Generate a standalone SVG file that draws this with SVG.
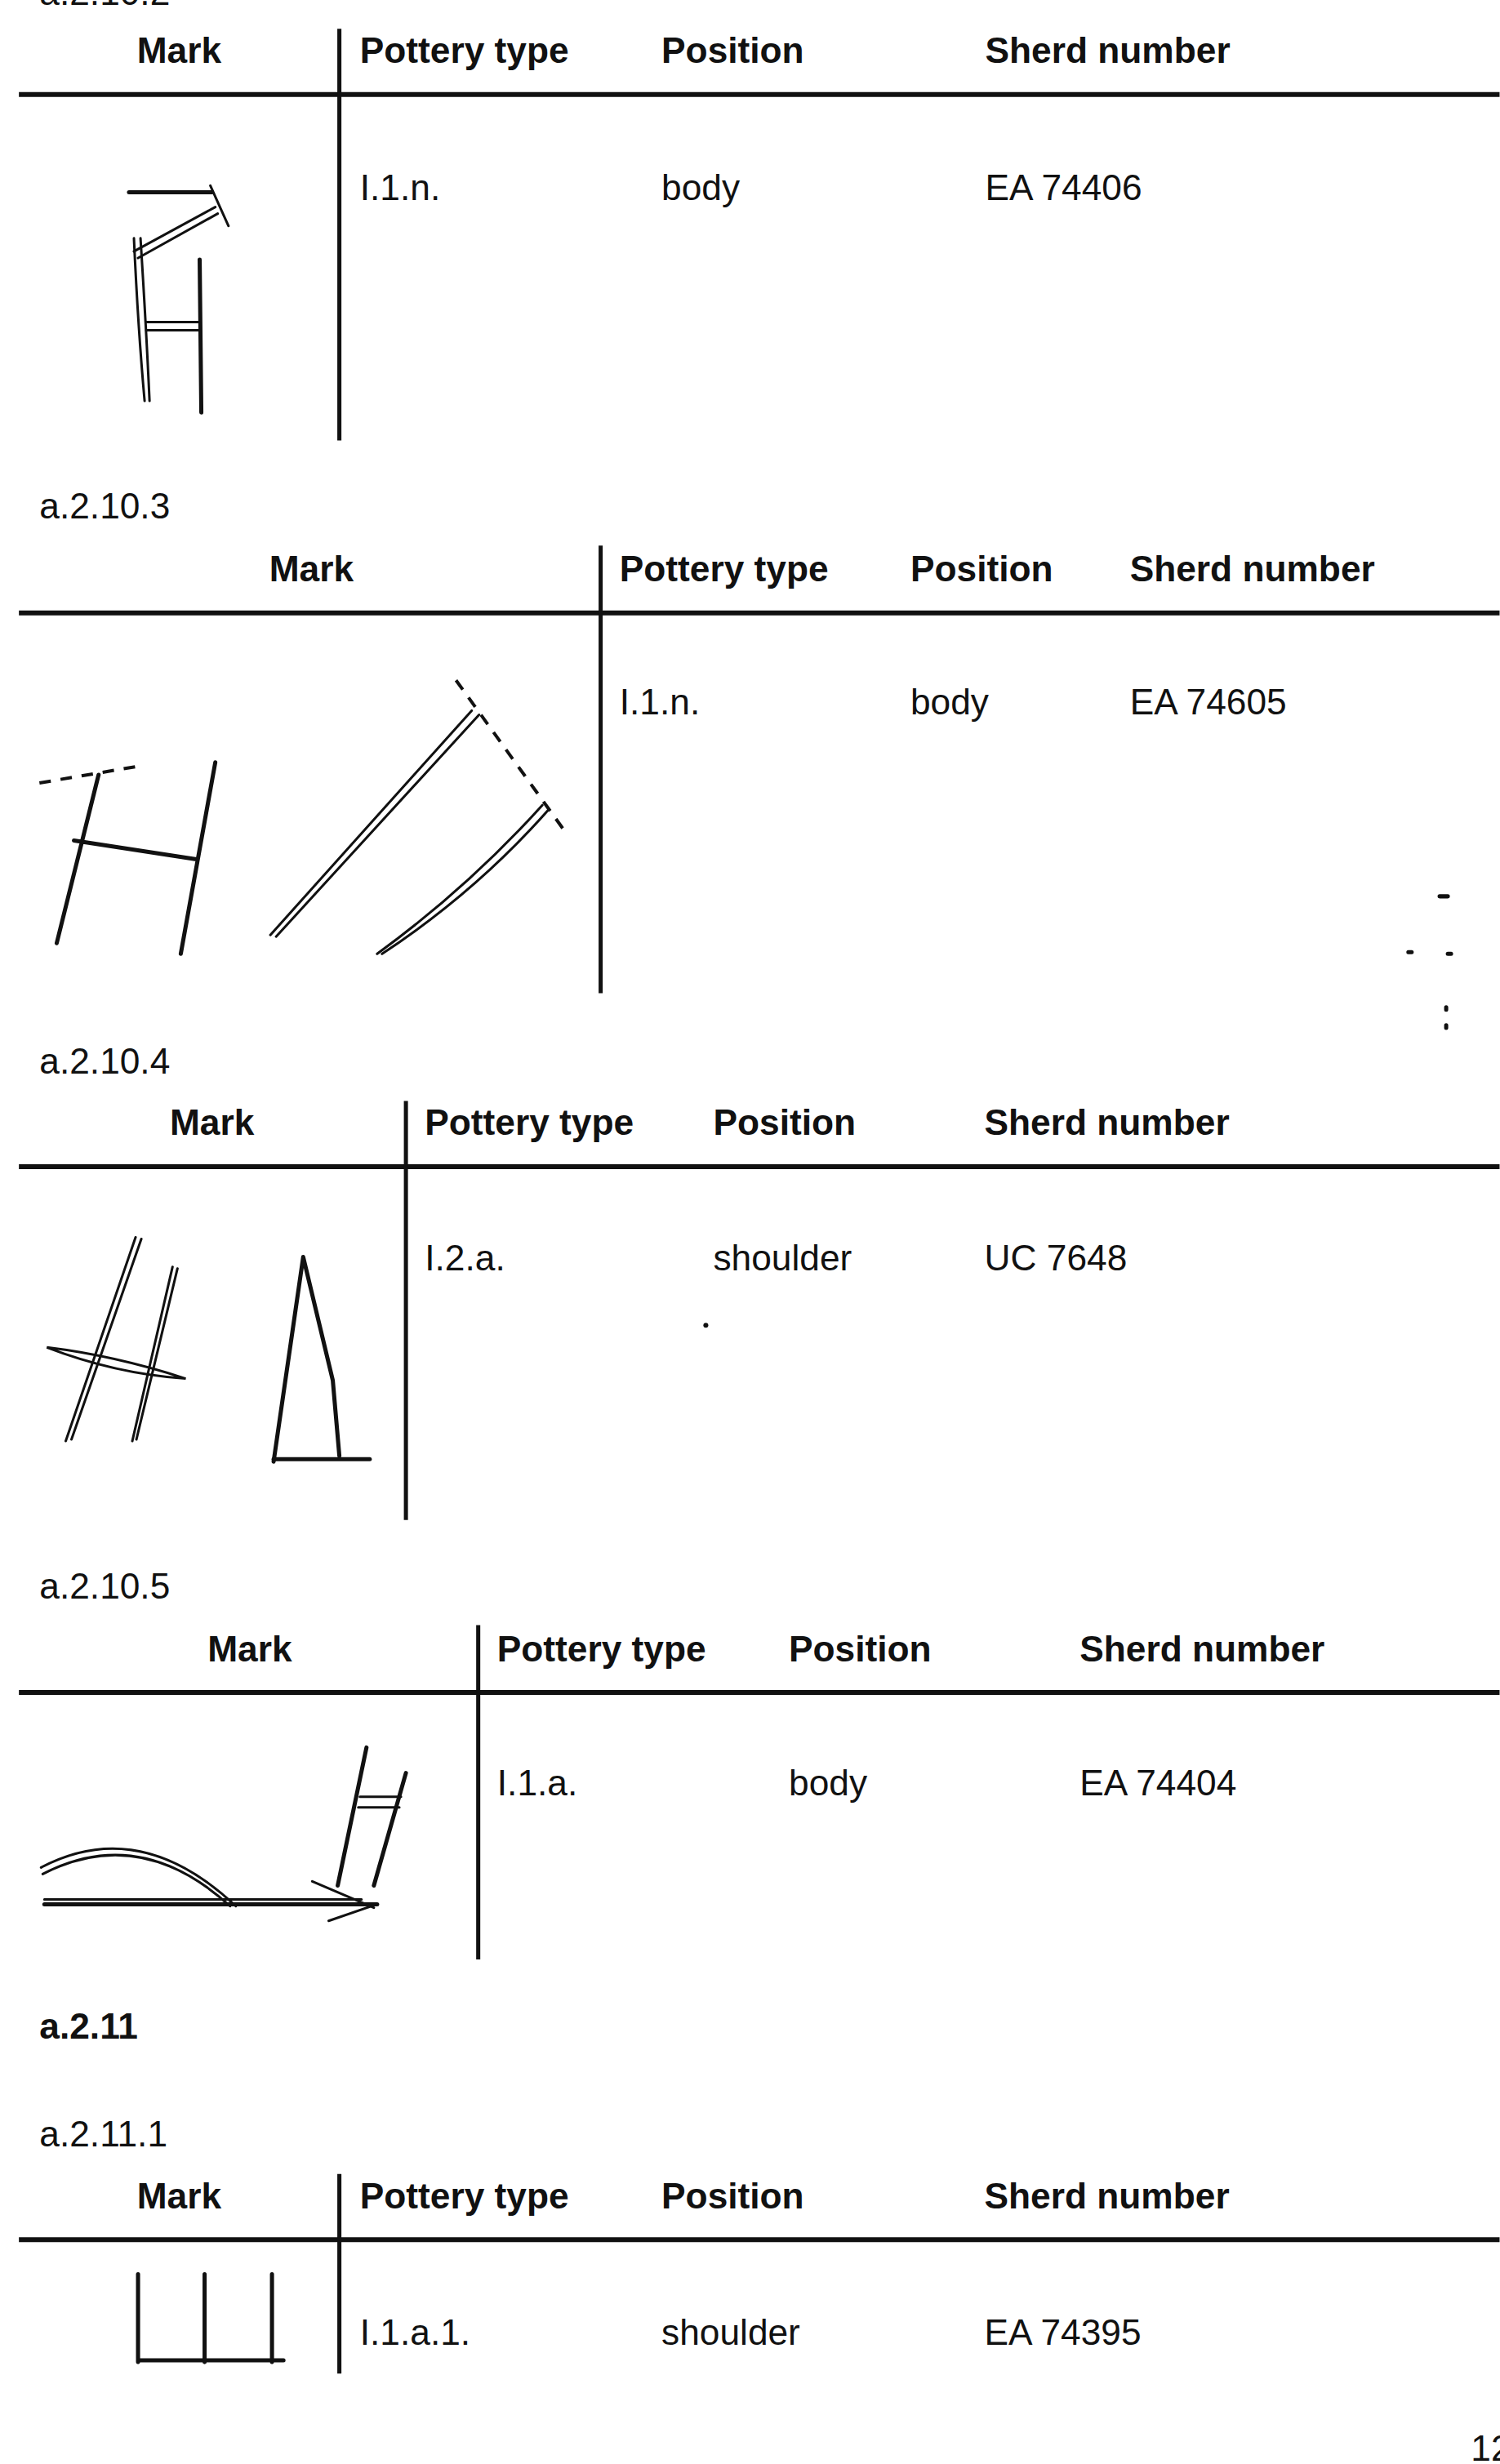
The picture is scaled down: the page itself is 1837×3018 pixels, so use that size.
<svg xmlns="http://www.w3.org/2000/svg" width="1837" height="3018" viewBox="0 0 1837 3018">
<style>
text{font-family:"Liberation Sans",Arial,sans-serif;font-size:44px;fill:#111}
.h{font-weight:bold}
.c{text-anchor:middle}
.hl{stroke:#111;stroke-width:6}
.vl{stroke:#111;stroke-width:5}
.m{stroke:#111;stroke-width:5;fill:none;stroke-linecap:round}
.t{stroke:#111;stroke-width:3;fill:none;stroke-linecap:round}
.d{stroke:#111;stroke-width:4;fill:none;stroke-dasharray:14 12}
</style>
<rect width="1837" height="3018" fill="#fff"/>
<g transform="scale(1.0063)">
<text x="48" y="6">a.2.10.2</text>
<g id="table1">
<line class="hl" x1="23" y1="115" x2="1825" y2="115"/>
<line class="vl" x1="413" y1="35" x2="413" y2="536"/>
<text class="h c" x="218" y="77">Mark</text>
<text class="h" x="438" y="77">Pottery type</text>
<text class="h" x="805" y="77">Position</text>
<text class="h" x="1199" y="77">Sherd number</text>
<text x="438" y="243">I.1.n.</text><text x="805" y="243">body</text><text x="1199" y="243">EA 74406</text>
<g id="mark1">
<path class="m" d="M157,234 L258,234" stroke-width="8"/>
<path class="t" d="M163,306 L262,252 M168,314 L265,260 M256,226 L278,275"/>
<path class="t" d="M163,290 Q168,400 176,488 M171,290 Q178,400 182,488"/>
<path class="m" d="M243,316 L245,502" stroke-width="7"/>
<path class="t" d="M178,392 L243,392 M178,402 L243,402"/>
</g>
</g>
<text x="48" y="631">a.2.10.3</text>
<g id="table2">
<line class="hl" x1="23" y1="746" x2="1825" y2="746"/>
<line class="vl" x1="731" y1="664" x2="731" y2="1209"/>
<text class="h c" x="379" y="708">Mark</text>
<text class="h" x="754" y="708">Pottery type</text>
<text class="h" x="1108" y="708">Position</text>
<text class="h" x="1375" y="708">Sherd number</text>
<text x="754" y="870">I.1.n.</text><text x="1108" y="870">body</text><text x="1375" y="870">EA 74605</text>
<g id="mark2">
<path class="d" d="M48,953 L172,932"/>
<path class="m" d="M120,943 L69,1148 M262,928 L220,1161 M90,1023 L239,1046"/>
<path class="t" d="M574,865 L329,1138 M583,870 L336,1140"/>
<path class="t" d="M660,980 Q570,1080 459,1161 M668,985 Q580,1085 465,1161"/>
<path class="d" d="M555,828 L689,1014"/>
</g>
<path class="m" d="M1752,1091 L1762,1091 M1714,1159 L1718,1159 M1762,1161 L1766,1161 M1760,1226 L1760,1229 M1760,1248 L1760,1251"/>
</g>
<text x="48" y="1307">a.2.10.4</text>
<g id="table3">
<line class="hl" x1="23" y1="1420" x2="1825" y2="1420"/>
<line class="vl" x1="494" y1="1340" x2="494" y2="1850"/>
<text class="h c" x="258" y="1381">Mark</text>
<text class="h" x="517" y="1381">Pottery type</text>
<text class="h" x="868" y="1381">Position</text>
<text class="h" x="1198" y="1381">Sherd number</text>
<text x="517" y="1546">I.2.a.</text><text x="868" y="1546">shoulder</text><text x="1198" y="1546">UC 7648</text>
<circle cx="859" cy="1613" r="3" fill="#111"/>
<g id="mark3">
<path class="t" d="M165,1506 L80,1754 M172,1508 L87,1752 M210,1542 L161,1754 M216,1544 L166,1752"/>
<path class="t" d="M57,1640 Q140,1650 226,1678 Q140,1672 57,1640 Z"/>
<path class="m" d="M369,1530 L333,1779 M369,1530 L405,1680 L413,1772"/>
<path class="m" d="M333,1776 L450,1776" stroke-width="9"/>
</g>
</g>
<text x="48" y="1946">a.2.10.5</text>
<g id="table4">
<line class="hl" x1="23" y1="2060" x2="1825" y2="2060"/>
<line class="vl" x1="582" y1="1978" x2="582" y2="2385"/>
<text class="h c" x="304" y="2022">Mark</text>
<text class="h" x="605" y="2022">Pottery type</text>
<text class="h" x="960" y="2022">Position</text>
<text class="h" x="1314" y="2022">Sherd number</text>
<text x="605" y="2185">I.1.a.</text><text x="960" y="2185">body</text><text x="1314" y="2185">EA 74404</text>
<g id="mark4">
<path class="t" d="M50,2273 Q170,2210 287,2320 M52,2281 Q170,2220 280,2320"/>
<path class="m" d="M54,2318 L459,2318"/>
<path class="t" d="M54,2312 L440,2312 M380,2290 L455,2322 M400,2338 L458,2318"/>
<path class="m" d="M446,2127 L411,2295 M494,2158 L455,2295"/>
<path class="t" d="M438,2187 L488,2187 M436,2200 L486,2200"/>
</g>
</g>
<text class="h" x="48" y="2481">a.2.11</text>
<text x="48" y="2613">a.2.11.1</text>
<g id="table5">
<line class="hl" x1="23" y1="2726" x2="1825" y2="2726"/>
<line class="vl" x1="413" y1="2646" x2="413" y2="2889"/>
<text class="h c" x="218" y="2688">Mark</text>
<text class="h" x="438" y="2688">Pottery type</text>
<text class="h" x="805" y="2688">Position</text>
<text class="h" x="1198" y="2688">Sherd number</text>
<text x="438" y="2854">I.1.a.1.</text><text x="805" y="2854">shoulder</text><text x="1198" y="2854">EA 74395</text>
<g id="mark5">
<path class="m" d="M168,2768 L168,2875 M249,2768 L249,2875 M331,2768 L331,2875 M168,2873 L345,2873"/>
</g>
</g>
<text x="1790" y="2995">12</text>
</g>
</svg>
